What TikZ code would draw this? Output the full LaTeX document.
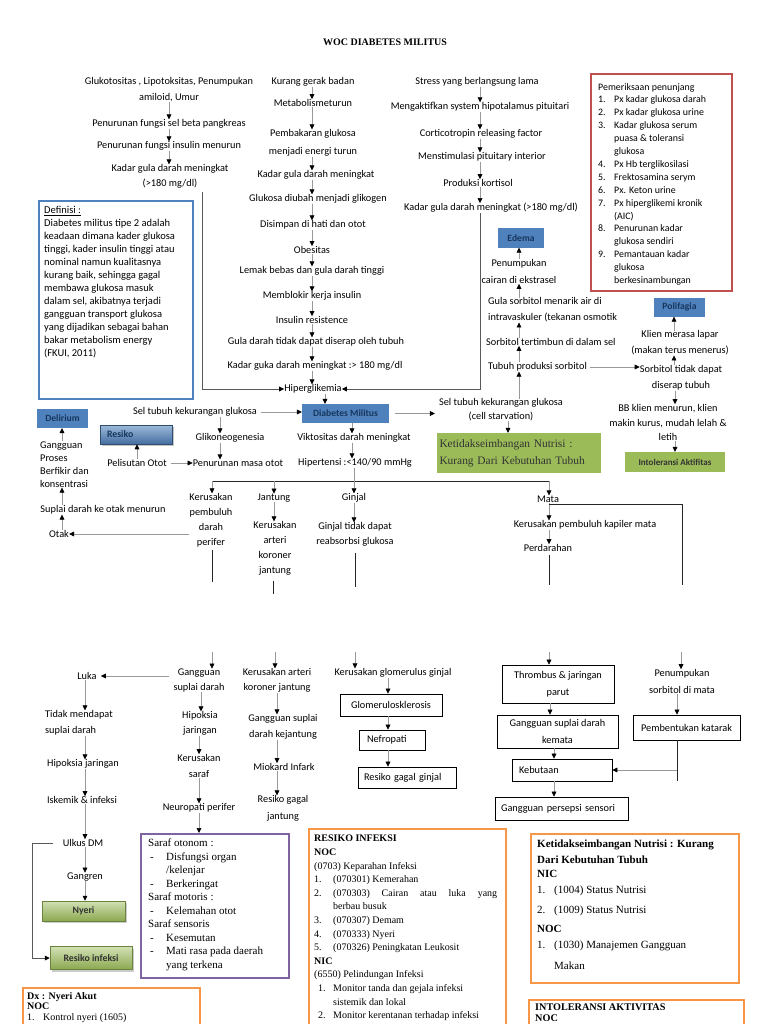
\documentclass[tikz,border=0pt]{standalone}
\usepackage{fontspec}
\setmainfont{Carlito}
\newfontfamily\tnr{Liberation Serif}
\usetikzlibrary{arrows.meta,shadows,calc}
\definecolor{bluebox}{HTML}{4F81BD}
\definecolor{greenbox}{HTML}{9BBB59}
\definecolor{redb}{HTML}{C0504D}
\definecolor{purb}{HTML}{8064A2}
\definecolor{orb}{HTML}{F79646}
\definecolor{navy}{HTML}{17365D}
\newcommand{\mkn}[2][19pt]{\makebox[#1][l]{#2}}
\newcommand{\mkd}{\makebox[18pt][l]{\hspace{2pt}-}}
\newcommand{\dnarr}[3]{\draw[arr] (#1.south -| #3,0) -- (#2.north -| #3,0);}
\newcommand{\uparr}[3]{\draw[arr] (#1.north -| #3,0) -- (#2.south -| #3,0);}
\begin{document}
\begin{tikzpicture}[x=1pt,y=-1pt,
  tx/.style={inner sep=0pt, align=center, font=\fontsize{10.3}{#1}\selectfont},
  tx/.default=15,
  txl/.style={inner sep=0pt, align=left, font=\fontsize{10.3}{#1}\selectfont},
  txl/.default=13,
  arr/.style={draw=black!40, line width=0.6pt, -{Triangle[length=5pt,width=4.8pt,black]}},
  darr/.style={draw=black!65, line width=0.8pt, -{Triangle[length=5pt,width=4.8pt,black]}},
  dln/.style={draw=black!85, line width=1pt},
  bbox/.style={fill=bluebox, minimum width=#1, minimum height=19pt, inner sep=0pt, font=\fontsize{9.6}{11}\selectfont\bfseries, text=navy},
  rbox/.style={draw=bluebox!60!black, line width=0.5pt, top color=bluebox!55!white, bottom color=bluebox!85!black, drop shadow={shadow xshift=2pt,shadow yshift=-2pt,opacity=0.45}, minimum height=19pt, inner ysep=0pt, font=\fontsize{9.8}{11}\selectfont\bfseries, text=navy},
  gbox3/.style={draw=greenbox!70!black, line width=0.5pt, top color=greenbox!45!white, bottom color=greenbox!90!black, drop shadow={shadow xshift=2pt,shadow yshift=-2pt,opacity=0.4}, inner sep=0pt, font=\fontsize{9.8}{11}\selectfont\bfseries, text=black!80},
  gbox/.style={fill=greenbox, inner sep=0pt},
  wbox/.style={draw=black, line width=0.8pt, inner sep=0pt, font=\fontsize{10.3}{17}\selectfont, align=center},
  obox/.style={draw=orb, line width=2pt, inner sep=0pt, anchor=north west},
]
\useasboundingbox[fill=white] (0,0) rectangle (768,1024);

% title
\node[font=\tnr\bfseries\fontsize{10}{12}\selectfont, inner sep=0pt] (title) at (385,42) {WOC DIABETES MILITUS};

% ---------- left column ----------
\node[tx=16] (a1) at (169,90) {Glukotositas , Lipotoksitas, Penumpukan\\amiloid, Umur};
\node[tx] (a2) at (169,124) {Penurunan fungsi sel beta pangkreas};
\node[tx] (a3) at (169,146) {Penurunan fungsi insulin menurun};
\node[tx=15] (a4) at (170,176.5) {Kadar gula darah meningkat\\(>180 mg/dl)};
\dnarr{a1}{a2}{169}
\dnarr{a2}{a3}{169}
\dnarr{a3}{a4}{169}

% definisi box
\node[draw=bluebox, line width=2pt, minimum width=154pt, minimum height=198pt, anchor=north west, inner sep=0pt] (defb) at (38,200) {};
\node[anchor=north west, inner sep=0pt, align=left, font=\fontsize{10.5}{13}\selectfont] (deft) at (44,206) {\underline{Definisi :}\\Diabetes militus tipe 2 adalah\\keadaan dimana kader glukosa\\tinggi, kader insulin tinggi atau\\nominal namun kualitasnya\\kurang baik, sehingga gagal\\membawa glukosa masuk\\dalam sel, akibatnya terjadi\\gangguan transport glukosa\\yang dijadikan sebagai bahan\\bakar metabolism energy\\(FKUI, 2011)};

% ---------- middle column ----------
\node[tx] (m1) at (313,82) {Kurang gerak badan};
\node[tx] (m2) at (313,103) {Metabolismeturun};
\node[tx=18] (m3) at (313,143) {Pembakaran glukosa\\menjadi energi turun};
\node[tx] (m4) at (316,175) {Kadar gula darah meningkat};
\node[tx] (m5) at (318,199) {Glukosa diubah menjadi glikogen};
\node[tx] (m6) at (313,225) {Disimpan di hati dan otot};
\node[tx] (m7) at (312,250) {Obesitas};
\node[tx] (m8) at (312,271) {Lemak bebas dan gula darah tinggi};
\node[tx] (m9) at (312,296) {Memblokir kerja insulin};
\node[tx] (m10) at (312,320) {Insulin resistence};
\node[tx] (m11) at (316,342) {Gula darah tidak dapat diserap oleh tubuh};
\node[tx] (m12) at (315,366) {Kadar guka darah meningkat :> 180 mg/dl};
\node[tx] (hip) at (313,389) {Hiperglikemia};
\dnarr{m1}{m2}{312}
\dnarr{m2}{m3}{312}
\dnarr{m3}{m4}{312}
\dnarr{m4}{m5}{312}
\dnarr{m5}{m6}{312}
\dnarr{m6}{m7}{312}
\dnarr{m7}{m8}{312}
\dnarr{m8}{m9}{312}
\dnarr{m9}{m10}{312}
\dnarr{m10}{m11}{312}
\dnarr{m11}{m12}{312}
\dnarr{m12}{hip}{312}

% ---------- right top column ----------
\node[tx] (r1) at (477,82) {Stress yang berlangsung lama};
\node[tx] (r2) at (480,107) {Mengaktifkan system hipotalamus pituitari};
\node[tx] (r3) at (481,134) {Corticotropin releasing factor};
\node[tx] (r4) at (482,157) {Menstimulasi pituitary interior};
\node[tx] (r5) at (478,183) {Produksi kortisol};
\node[tx] (r6) at (491,208) {Kadar gula darah meningkat (>180 mg/dl)};
\dnarr{r1}{r2}{480}
\dnarr{r2}{r3}{480}
\dnarr{r3}{r4}{480}
\dnarr{r4}{r5}{480}
\dnarr{r5}{r6}{480}

% lines to hiperglikemia
\draw[darr] ($(a4.south -| 202,0)+(0,3)$) |- (hip.west);
\draw[darr] (r6.south -| 480,0) |- (hip.east);

% pemeriksaan box
\node[draw=redb, line width=2pt, minimum width=141pt, minimum height=217pt, anchor=north west, inner sep=0pt] (pemb) at (590,73) {};
\node[anchor=north west, inner sep=0pt, align=left, font=\fontsize{9.9}{12.9}\selectfont] (pemt) at (598,83) {Pemeriksaan penunjang\\
\mkn[16pt]{1.}Px kadar glukosa darah\\
\mkn[16pt]{2.}Px kadar glukosa urine\\
\mkn[16pt]{3.}Kadar glukosa serum\\
\hspace*{16pt}puasa \& toleransi\\
\hspace*{16pt}glukosa\\
\mkn[16pt]{4.}Px Hb terglikosilasi\\
\mkn[16pt]{5.}Frektosamina serym\\
\mkn[16pt]{6.}Px. Keton urine\\
\mkn[16pt]{7.}Px hiperglikemi kronik\\
\hspace*{16pt}(AIC)\\
\mkn[16pt]{8.}Penurunan kadar\\
\hspace*{16pt}glukosa sendiri\\
\mkn[16pt]{9.}Pemantauan kadar\\
\hspace*{16pt}glukosa\\
\hspace*{16pt}berkesinambungan};

% sorbitol column
\node[bbox=46pt] (edema) at (521,238) {Edema};
\node[tx=17] (pcd) at (519,271.5) {Penumpukan\\cairan di ekstrasel};
\node[txl=16, anchor=west] (gsm) at (488,310) {Gula sorbitol menarik air di\\intravaskuler (tekanan osmotik};
\node[tx, anchor=west] (sts) at (486,342) {Sorbitol tertimbun di dalam sel};
\node[tx, anchor=west] (tps) at (488,367) {Tubuh produksi sorbitol};
\uparr{pcd}{edema}{519}
\uparr{gsm}{pcd}{519}
\uparr{sts}{gsm}{519}
\uparr{tps}{sts}{519}

\node[tx=16] (stdd) at (681,378) {Sorbitol tidak dapat\\diserap tubuh};
\node[tx=16] (klm) at (680,343) {Klien merasa lapar\\(makan terus menerus)};
\node[bbox=51pt] (poli) at (679.5,307) {Polifagia};
\node[tx=14.5] (bb) at (668,422.5) {BB klien menurun, klien\\makin kurus, mudah lelah \&\\letih};
\node[gbox, minimum width=100pt, minimum height=20pt, font=\fontsize{9}{11}\selectfont\bfseries, text=black!80] (intol) at (675,462) {Intoleransi Aktifitas};
\draw[arr] ([xshift=3pt]tps.east) -- (stdd.west |- tps.east);
\uparr{stdd}{klm}{674}
\uparr{klm}{poli}{674}
\dnarr{stdd}{bb}{675}
\dnarr{bb}{intol}{675}

% ---------- middle band ----------
\node[bbox=51pt] (del) at (62.5,418.5) {Delirium};
\node[txl=13, anchor=west] (gpk) at (40,464.5) {Gangguan\\Proses\\Berfikir dan\\konsentrasi};
\node[tx] (sup) at (103,510) {Suplai darah ke otak menurun};
\node[tx] (otak) at (59,534) {Otak};
\uparr{gpk}{del}{62}
\uparr{sup}{gpk}{62}
\uparr{otak}{sup}{62}

\node[rbox, text width=58pt, align=left, inner xsep=7pt] (res) at (136,434.5) {Resiko};
\node[tx] (pel) at (137,463) {Pelisutan Otot};
\node[tx] (pmo) at (238,463) {Penurunan masa otot};
\node[tx] (glik) at (230,438) {Glikoneogenesia};
\node[tx] (stk) at (195,412) {Sel tubuh kekurangan glukosa};
\uparr{pel}{res}{137}
\draw[arr] ([xshift=4pt]pel.east) -- (pmo.west);
\dnarr{stk}{glik}{220}
\dnarr{glik}{pmo}{220}

\node[bbox=87pt] (dm) at (345.5,413.5) {Diabetes Militus};
\draw[arr] ([xshift=4pt]stk.east) -- (dm.west |- stk.east);
\dnarr{hip}{dm}{325}
\node[tx] (vik) at (354,438) {Viktositas darah meningkat};
\node[tx] (hpt) at (355,463) {Hipertensi :<140/90 mmHg};
\dnarr{dm}{vik}{352}
\dnarr{vik}{hpt}{352}

\node[tx=14] (stk2) at (501,410) {Sel tubuh kekurangan glukosa\\(cell starvation)};
\draw[arr] ([xshift=6pt]dm.east) -- ([xshift=-4pt]stk2.west |- dm.east);
\node[gbox, minimum width=164pt, minimum height=40pt, text width=158pt, inner xsep=3pt, align=left, font=\tnr\fontsize{11.4}{17}\selectfont, text=black!80] (ketb) at (518.5,453) {Ketidakseimbangan Nutrisi :\\Kurang Dari Kebutuhan Tubuh};
\dnarr{stk2}{ketb}{508}
\uparr{stk2}{tps}{519}

% branches
\coordinate (b1) at (212,481);
\coordinate (b2) at (549,481);
\node[tx=15] (kpd) at (211,520.5) {Kerusakan\\pembuluh\\darah\\perifer};
\node[tx] (jan) at (274,498) {Jantung};
\node[tx=15] (kak1) at (275,548.5) {Kerusakan\\arteri\\koroner\\jantung};
\node[tx] (gin) at (354,498) {Ginjal};
\node[tx=15] (gtd) at (355,534.5) {Ginjal tidak dapat\\reabsorbsi glukosa};
\node[tx] (mata) at (548,499) {Mata};
\node[tx] (kpk) at (585,525) {Kerusakan pembuluh kapiler mata};
\node[tx] (perd) at (548,548) {Perdarahan};
\draw[dln] (b1) -- (b2);
\draw[arr] (b1) -- (kpd.north -| b1);
\draw[arr] (jan.north |- b1) -- (jan.north);
\draw[arr] (hpt.south -| gin.north) -- (gin.north);
\draw[arr] (b2) -- (mata.north -| b2);
\dnarr{jan}{kak1}{274}
\dnarr{gin}{gtd}{354}
\dnarr{mata}{kpk}{549}
\dnarr{kpk}{perd}{549}
\draw[dln] ([yshift=-2pt]mata.south -| b2) -| ++(133,80);
\draw[arr] (kpd.west |- otak) -- (otak.east);
% vertical cut lines
\draw[dln] ($(kpd.south -| b1)+(0,2)$) -- ++(0,32);
\draw[dln] ($(kak1.south -| 273,0)+(0,5)$) -- ++(0,13);
\draw[dln] ($(gtd.south -| 355,0)+(0,6)$) -- ++(0,34);
\draw[dln] ($(perd.south -| b2)+(0,3)$) -- ++(0,30);

% ---------- lower section ----------
\coordinate (s1) at (212,652);
\coordinate (s2) at (275,652);
\coordinate (s3) at (355,652);
\coordinate (s4) at (549,652);
\coordinate (s5) at (681,652);

\node[tx=15] (gsd1) at (199,680.5) {Gangguan\\suplai darah};
\node[tx] (luka) at (87,676) {Luka};
\node[txl=16, anchor=west] (tmsd) at (45,723) {Tidak mendapat\\suplai darah};
\node[tx] (hj) at (83,764) {Hipoksia jaringan};
\node[tx] (ik) at (82,800) {Iskemik \& infeksi};
\node[tx] (ulk) at (83,843) {Ulkus DM};
\node[tx] (gang) at (85,877) {Gangren};
\node[gbox3, minimum width=83pt, minimum height=20pt] (nyeri) at (83.5,911) {Nyeri};
\node[gbox3, minimum width=82pt, minimum height=23pt] (rinf) at (91,958) {Resiko infeksi};
\draw[arr] (s1) -- (gsd1.north -| s1);
\draw[arr] ([xshift=-4pt]gsd1.west |- luka.east) -- ([xshift=4pt]luka.east);
\dnarr{luka}{tmsd}{85}
\dnarr{tmsd}{hj}{85}
\dnarr{hj}{ik}{85}
\dnarr{ik}{ulk}{85}
\dnarr{ulk}{gang}{85}
\dnarr{gang}{nyeri}{85}
\draw[darr] ([xshift=-10pt]ulk.west) -- ++(-20,0) |- (rinf.west);

\node[tx=15] (hpj) at (200,723.5) {Hipoksia\\jaringan};
\node[tx=16] (ksr) at (199,766) {Kerusakan\\saraf};
\node[tx] (np) at (199,808) {Neuropati perifer};
\node[draw=purb, line width=2pt, minimum width=148pt, minimum height=144pt, anchor=north west, inner sep=0pt] (pbox) at (140,833) {};
\node[anchor=north west, inner sep=0pt, align=left, font=\tnr\fontsize{11}{13.5}\selectfont] (ptext) at (148,839) {Saraf otonom :\\\mkd Disfungsi organ\\\hspace*{18pt}/kelenjar\\\mkd Berkeringat\\Saraf motoris :\\\mkd Kelemahan otot\\Saraf sensoris\\\mkd Kesemutan\\\mkd Mati rasa pada daerah\\\hspace*{18pt}yang terkena};
\dnarr{gsd1}{hpj}{201}
\dnarr{hpj}{ksr}{199}
\dnarr{ksr}{np}{199}
\dnarr{np}{pbox}{199}

\node[tx=15] (kak2) at (277,680.5) {Kerusakan arteri\\koroner jantung};
\node[tx=16] (gsj) at (283,727) {Gangguan suplai\\darah kejantung};
\node[tx] (mi) at (284,767) {Miokard Infark};
\node[tx=17] (rgj) at (283,808.5) {Resiko gagal\\jantung};
\draw[arr] (s2) -- (kak2.north -| s2);
\dnarr{kak2}{gsj}{277}
\dnarr{gsj}{mi}{277}
\dnarr{mi}{rgj}{277}

\node[tx] (kgg) at (393,673) {Kerusakan glomerulus ginjal};
\node[wbox, minimum width=102pt, minimum height=22pt] (glom) at (391,705) {Glomerulosklerosis};
\node[wbox, minimum width=66pt, minimum height=20pt, text width=50pt, inner xsep=8pt, align=left] (nef) at (392,740) {Nefropati};
\node[wbox, minimum width=98pt, minimum height=21pt, text width=86pt, inner xsep=6pt, align=left] (rgg) at (407,777.5) {Resiko gagal ginjal};
\draw[arr] (s3) -- (kgg.north -| s3);
\dnarr{kgg}{glom}{388}
\dnarr{glom}{nef}{388}
\dnarr{nef}{rgg}{388}

\node[wbox, minimum width=112pt, minimum height=38pt] (thr) at (558,684) {Thrombus \& jaringan\\parut};
\node[wbox, minimum width=121pt, minimum height=33pt] (gsd2) at (557.5,731.5) {Gangguan suplai darah\\kemata};
\node[wbox, minimum width=100pt, minimum height=22pt, text width=86pt, inner xsep=7pt, align=left] (keb) at (562,770) {Kebutaan};
\node[wbox, minimum width=133pt, minimum height=23pt, text width=121pt, inner xsep=6pt, align=left] (gps) at (561.5,808.5) {Gangguan persepsi sensori};
\draw[arr] (s4) -- (thr.north -| s4);
\dnarr{thr}{gsd2}{550}
\dnarr{gsd2}{keb}{554}
\dnarr{keb}{gps}{554}

\node[tx=17] (pst) at (682,681.5) {Penumpukan\\sorbitol di mata};
\node[wbox, minimum width=107pt, minimum height=25pt] (kat) at (686.5,727.5) {Pembentukan katarak};
\draw[arr] (s5) -- (pst.north -| s5);
\dnarr{pst}{kat}{677}
\draw[dln] (kat.south -| 677,0) -- ++(0,41);
\draw[arr] (keb.east -| 677,0) -- (keb.east);

% ---------- orange boxes ----------
\node[obox, minimum width=197pt, minimum height=210pt] (ob1) at (308,828) {};
\node[anchor=north west, inner sep=0pt, align=left, font=\tnr\fontsize{10}{13.6}\selectfont] (ob1t) at (314,835) {\textbf{RESIKO INFEKSI}\\\textbf{NOC}\\(0703) Keparahan Infeksi\\\mkn{1.}(070301) Kemerahan\\\mkn{2.}\makebox[164pt][s]{(070303) Cairan atau luka yang}\\\hspace*{19pt}berbau busuk\\\mkn{3.}(070307) Demam\\\mkn{4.}(070333) Nyeri\\\mkn{5.}(070326) Peningkatan Leukosit\\\textbf{NIC}\\(6550) Pelindungan Infeksi\\\hspace*{4pt}\mkn[15pt]{1.}Monitor tanda dan gejala infeksi\\\hspace*{19pt}sistemik dan lokal\\\hspace*{4pt}\mkn[15pt]{2.}Monitor kerentanan terhadap infeksi};

\node[obox, minimum width=208pt, minimum height=149pt] (ob2) at (530,833) {};
\node[anchor=north west, inner sep=0pt, align=left, font=\tnr\fontsize{11}{14}\selectfont] (ob2t) at (537,840) {\textbf{Ketidakseimbangan Nutrisi : Kurang}\\[2pt]\textbf{Dari Kebutuhan Tubuh}\\\textbf{NIC}\\[2pt]\mkn[17pt]{1.}(1004) Status Nutrisi\\[6pt]\mkn[17pt]{2.}(1009) Status Nutrisi\\[5pt]\textbf{NOC}\\[2pt]\mkn[17pt]{1.}(1030) Manajemen Gangguan\\[7pt]\hspace*{17pt}Makan};

\node[obox, minimum width=215pt, minimum height=40pt] (ob3) at (528,999) {};
\node[anchor=north west, inner sep=0pt, align=left, font=\tnr\fontsize{10.2}{10.6}\selectfont] (ob3t) at (535,1003.5) {\textbf{INTOLERANSI AKTIVITAS}\\\textbf{NOC}};

\node[obox, minimum width=177pt, minimum height=50pt] (ob4) at (22,987) {};
\node[anchor=north west, inner sep=0pt, align=left, font=\tnr\fontsize{10}{10.6}\selectfont] (ob4t) at (27,992) {\textbf{Dx : Nyeri Akut}\\\textbf{NOC}\\\mkn[16pt]{1.}Kontrol nyeri (1605)};
\end{tikzpicture}
\end{document}
